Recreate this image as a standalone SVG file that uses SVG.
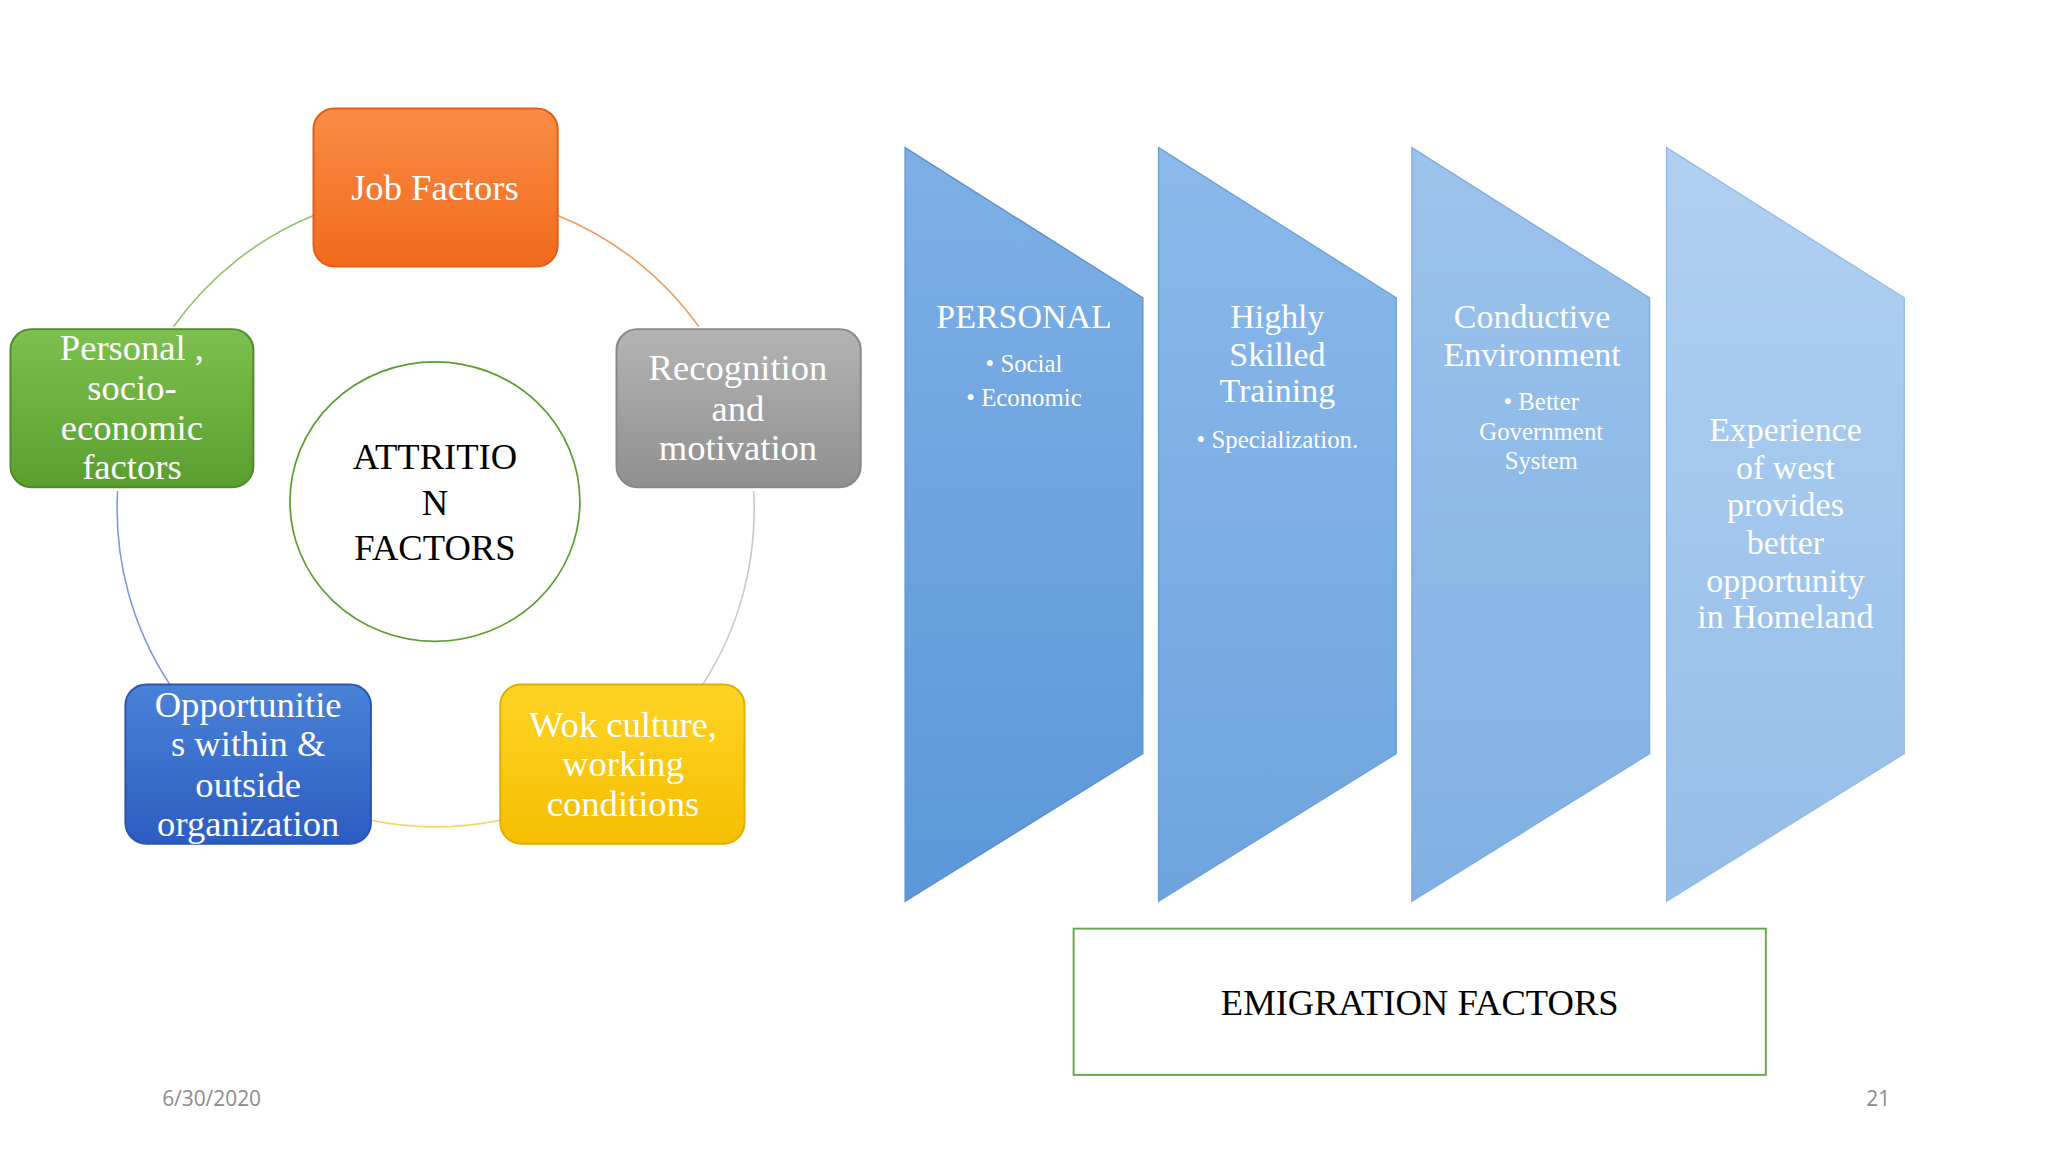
<svg xmlns="http://www.w3.org/2000/svg" width="2048" height="1152" viewBox="0 0 2048 1152">
<defs>
<style>
.t{font-family:"Liberation Serif","Times New Roman",serif;text-anchor:middle}
.w{fill:#fff}
.box{stroke-width:1.5}
.ft{font-family:"Open Sans","Liberation Sans",sans-serif;font-size:16px;fill:#8c8c8c;text-anchor:middle}
</style>
<linearGradient id="go" x1="0" y1="0" x2="0" y2="1"><stop offset="0" stop-color="#fb8c45"/><stop offset="1" stop-color="#f06a1c"/></linearGradient>
<linearGradient id="gg" x1="0" y1="0" x2="0" y2="1"><stop offset="0" stop-color="#7cc04f"/><stop offset="1" stop-color="#5a9e2f"/></linearGradient>
<linearGradient id="gr" x1="0" y1="0" x2="0" y2="1"><stop offset="0" stop-color="#b4b4b4"/><stop offset="1" stop-color="#8f8f8f"/></linearGradient>
<linearGradient id="gb" x1="0" y1="0" x2="0" y2="1"><stop offset="0" stop-color="#4a82d8"/><stop offset="1" stop-color="#2c5cc0"/></linearGradient>
<linearGradient id="gy" x1="0" y1="0" x2="0" y2="1"><stop offset="0" stop-color="#ffd426"/><stop offset="1" stop-color="#f5be00"/></linearGradient>
<linearGradient id="c1" x1="0" y1="0" x2="0" y2="1"><stop offset="0" stop-color="#7eb0e6"/><stop offset="1" stop-color="#5b97d9"/></linearGradient>
<linearGradient id="c2" x1="0" y1="0" x2="0" y2="1"><stop offset="0" stop-color="#8bb9ea"/><stop offset="1" stop-color="#6ea4de"/></linearGradient>
<linearGradient id="c3" x1="0" y1="0" x2="0" y2="1"><stop offset="0" stop-color="#9cc3ec"/><stop offset="1" stop-color="#80b0e3"/></linearGradient>
<linearGradient id="c4" x1="0" y1="0" x2="0" y2="1"><stop offset="0" stop-color="#b0d0f1"/><stop offset="1" stop-color="#95bde9"/></linearGradient>
</defs>
<rect width="2048" height="1152" fill="#fff"/>
<g transform="scale(1.3061)">
<g id="connectors" fill="none" stroke-width="1.2">
<path d="M133,250 A245,245 0 0 1 240,165" stroke="#8ec46a"/>
<path d="M427,165 A245,245 0 0 1 535,250" stroke="#f29a5c"/>
<path d="M577,376 A245,245 0 0 1 538,524" stroke="#c8c8c8"/>
<path d="M284,628 A245,245 0 0 0 383,628" stroke="#f7d25e"/>
<path d="M130,524 A245,245 0 0 1 90,376" stroke="#7b9bd8"/>
</g>
<g id="center"><ellipse cx="333" cy="384" rx="111" ry="107" fill="#fff" stroke="#5a9e2f" stroke-width="1.3"/>
<text class="t" font-size="28" fill="#000"><tspan x="333" y="359">ATTRITIO</tspan><tspan x="333" y="394">N</tspan><tspan x="333" y="429">FACTORS</tspan></text></g>
<g id="job"><rect x="240" y="83" width="187" height="121" rx="16" fill="url(#go)" stroke="#e0601a" class="box"/>
<text class="t w" font-size="28" x="333" y="153">Job Factors</text></g>
<g id="personal"><rect x="8" y="252" width="186" height="121" rx="16" fill="url(#gg)" stroke="#4f8a2a" class="box"/>
<text class="t w" font-size="28"><tspan x="101" y="276">Personal ,</tspan><tspan x="101" y="306">socio-</tspan><tspan x="101" y="337">economic</tspan><tspan x="101" y="367">factors</tspan></text></g>
<g id="recognition"><rect x="472" y="252" width="187" height="121" rx="16" fill="url(#gr)" stroke="#888" class="box"/>
<text class="t w" font-size="28"><tspan x="565" y="291">Recognition</tspan><tspan x="565" y="322">and</tspan><tspan x="565" y="352">motivation</tspan></text></g>
<g id="opportunities"><rect x="96" y="524" width="188" height="122" rx="16" fill="url(#gb)" stroke="#2a55b0" class="box"/>
<text class="t w" font-size="28"><tspan x="190" y="549">Opportunitie</tspan><tspan x="190" y="579">s within &amp;</tspan><tspan x="190" y="610">outside</tspan><tspan x="190" y="640">organization</tspan></text></g>
<g id="wok"><rect x="383" y="524" width="187" height="122" rx="16" fill="url(#gy)" stroke="#e0ae00" class="box"/>
<text class="t w" font-size="28"><tspan x="477" y="564">Wok culture,</tspan><tspan x="477" y="594">working</tspan><tspan x="477" y="625">conditions</tspan></text></g>
<g id="chev1"><path d="M693,113 L875,228 L875,577 L693,690 Z" fill="url(#c1)" stroke="#5b8fc8" stroke-width="1"/>
<text class="t w" font-size="26" x="784" y="251">PERSONAL</text>
<text class="t w" font-size="19"><tspan x="784" y="285">• Social</tspan><tspan x="784" y="311">• Economic</tspan></text></g>
<g id="chev2"><path d="M887,113 L1069,228 L1069,577 L887,690 Z" fill="url(#c2)" stroke="#6a9ed6" stroke-width="1"/>
<text class="t w" font-size="26"><tspan x="978" y="251">Highly</tspan><tspan x="978" y="280">Skilled</tspan><tspan x="978" y="308">Training</tspan></text>
<text class="t w" font-size="19" x="978" y="343">• Specialization.</text></g>
<g id="chev3"><path d="M1081,113 L1263,228 L1263,577 L1081,690 Z" fill="url(#c3)" stroke="#7eacdf" stroke-width="1"/>
<text class="t w" font-size="26"><tspan x="1173" y="251">Conductive</tspan><tspan x="1173" y="280">Environment</tspan></text>
<text class="t w" font-size="19"><tspan x="1180" y="314">• Better</tspan><tspan x="1180" y="337">Government</tspan><tspan x="1180" y="359">System</tspan></text></g>
<g id="chev4"><path d="M1276,113 L1458,228 L1458,577 L1276,690 Z" fill="url(#c4)" stroke="#93bbe7" stroke-width="1"/>
<text class="t w" font-size="26"><tspan x="1367" y="338">Experience</tspan><tspan x="1367" y="367">of west</tspan><tspan x="1367" y="395">provides</tspan><tspan x="1367" y="424">better</tspan><tspan x="1367" y="453">opportunity</tspan><tspan x="1367" y="481">in Homeland</tspan></text></g>
<g id="emigration"><rect x="822" y="711" width="530" height="112" fill="#fff" stroke="#6aa84f" stroke-width="1.5"/>
<text class="t" font-size="28" x="1087" y="777" fill="#000">EMIGRATION FACTORS</text></g>
<text class="ft" x="162" y="847">6/30/2020</text>
<text class="ft" x="1438" y="847">21</text>
</g>
</svg>
